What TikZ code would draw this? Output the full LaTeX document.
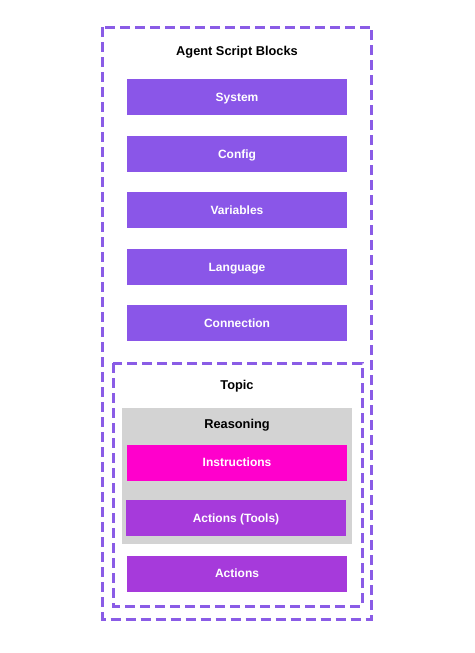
\documentclass[tikz,border=0pt]{standalone}
\usepackage{fontspec}
\setmainfont{Liberation Sans}
\usepackage{tikz}
\definecolor{blockpurple}{HTML}{8A56E8}
\definecolor{framepurple}{HTML}{8A5CE6}
\definecolor{instrpink}{HTML}{FF00CC}
\definecolor{actpurple}{HTML}{A63ADB}
\definecolor{reasongray}{HTML}{D3D3D3}
\begin{document}
\begin{tikzpicture}[x=1pt,y=-1pt,
  block/.style={fill=#1,text=white,minimum width=220pt,minimum height=36pt,
    inner sep=0pt,text height=8.6pt,text depth=0pt,
    font=\fontsize{12}{14}\selectfont\bfseries},
  block/.default=blockpurple,
  heading/.style={inner sep=0pt,text height=9.2pt,text depth=0pt,
    font=\fontsize{12.8}{15}\selectfont\bfseries},
  frame/.style={draw=framepurple,line width=3pt,dash pattern=on 10pt off 5pt}]
\useasboundingbox (0,0) rectangle (474,653);
% outer frame
\draw[frame] (102.5,27) rectangle (371.5,619);
\node[heading] (title) at (237,51) {Agent Script Blocks};
\node[block] (system) at (237,97) {System};
\node[block] (config) at (237,154) {Config};
\node[block] (variables) at (237,210) {Variables};
\node[block] (language) at (237,267) {Language};
\node[block] (connection) at (237,323) {Connection};
% topic frame
\draw[frame] (113,363) rectangle (362,606);
\node[heading] (topic) at (237,385) {Topic};
\fill[reasongray] (122,408) rectangle (352,544);
\node[heading] (reasoning) at (237,424) {Reasoning};
\node[block=instrpink] (instructions) at (237,462.5) {Instructions};
\node[block=actpurple] (tools) at (236,518) {Actions (Tools)};
\node[block=actpurple] (actions) at (237,573.5) {Actions};
\end{tikzpicture}
\end{document}
